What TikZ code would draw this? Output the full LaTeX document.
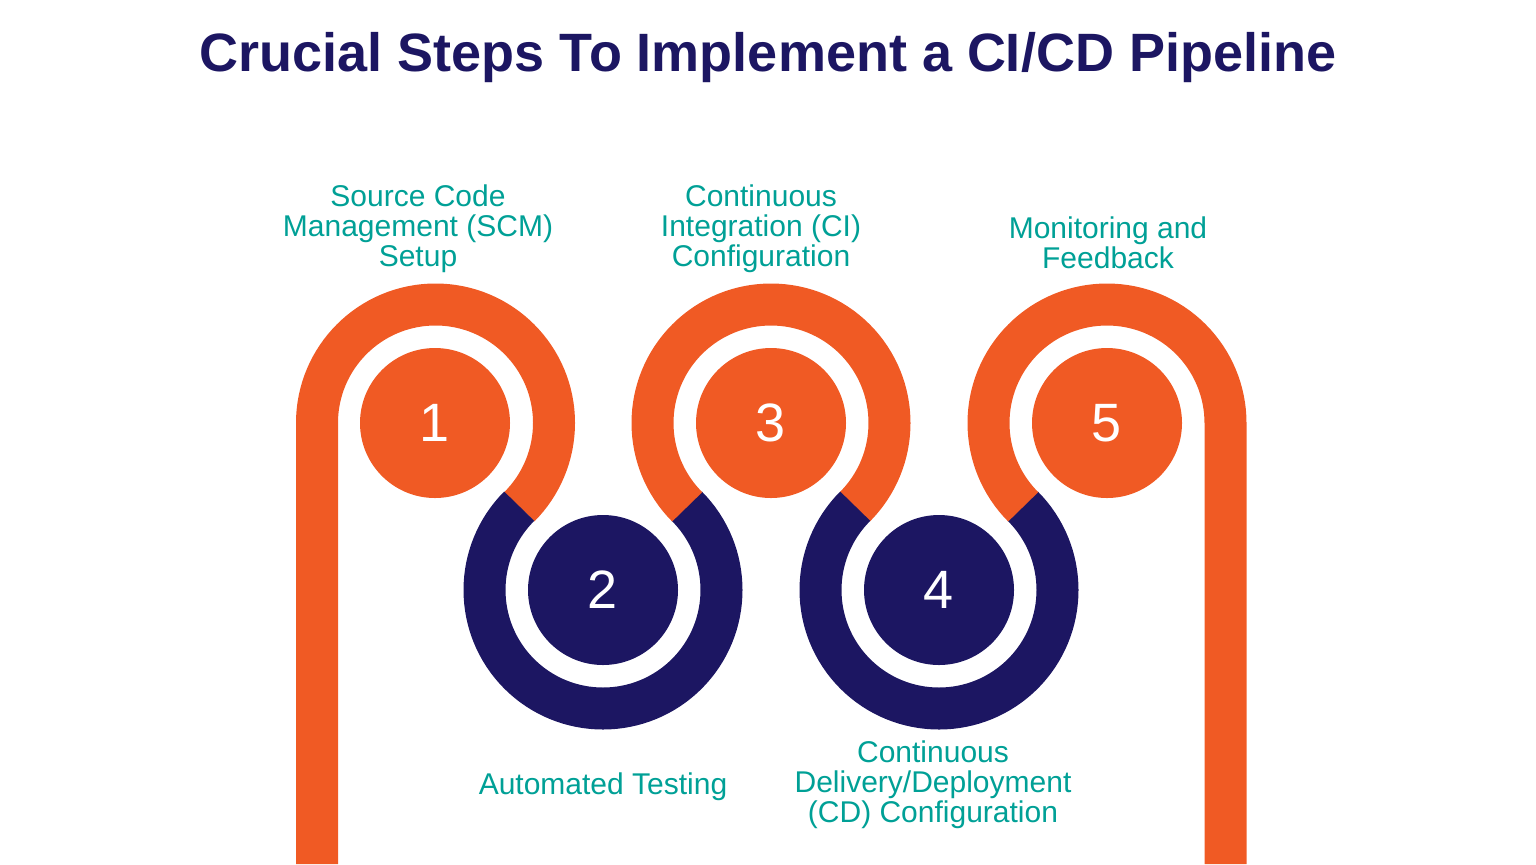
\documentclass[tikz,border=0pt]{standalone}
\usepackage{fontspec}
\setmainfont{Liberation Sans}
\usetikzlibrary{calc}
\begin{document}
\definecolor{org}{RGB}{240,90,36}
\definecolor{nav}{RGB}{28,22,98}
\definecolor{tl}{RGB}{0,160,150}
\begin{tikzpicture}[x=0.5pt,y=-0.5pt,
  ring/.style={line width=21pt,line cap=butt},
  num/.style={circle,minimum size=75pt,inner sep=0pt,text=white,font=\fontsize{27}{30}\selectfont},
  lbl/.style={text=tl,align=center,font=\fontsize{15}{15}\selectfont}]
\path[use as bounding box] (0,0) rectangle (1536,864);
\node[text=nav,font=\bfseries\fontsize{27}{30}\selectfont] (title) at (768,58) {Crucial Steps To Implement a CI/CD Pipeline};
\coordinate (c1) at (435,423);
\coordinate (c2) at (603,590);
\coordinate (c3) at (771,423);
\coordinate (c4) at (939,590);
\coordinate (c5) at (1107,423);
\draw[ring,org] (317,864) -- (317,423) arc[start angle=180,end angle=405,radius=118.5];
\draw[ring,nav] ($(c2)+(225:118.5)$) arc[start angle=225,end angle=-45,radius=118.5];
\draw[ring,org] ($(c3)+(135:118.5)$) arc[start angle=135,end angle=405,radius=118.5];
\draw[ring,nav] ($(c4)+(225:118.5)$) arc[start angle=225,end angle=-45,radius=118.5];
\draw[ring,org] ($(c5)+(135:118.5)$) arc[start angle=135,end angle=360,radius=118.5] -- (1225.5,864);
\node[num,fill=org] (n1) at (c1) {1};
\node[num,fill=nav] (n2) at (c2) {2};
\node[num,fill=org] (n3) at (c3) {3};
\node[num,fill=nav] (n4) at (c4) {4};
\node[num,fill=org] (n5) at (c5) {5};
\node[lbl] (l1) at (418,229) {Source Code\\Management (SCM)\\Setup};
\node[lbl] (l3) at (761,229) {Continuous\\Integration (CI)\\Configuration};
\node[lbl] (l5) at (1108,243) {Monitoring and\\Feedback};
\node[lbl] (l2) at (603,787) {Automated Testing};
\node[lbl] (l4) at (933,785) {Continuous\\Delivery/Deployment\\(CD) Configuration};
\end{tikzpicture}
\end{document}
